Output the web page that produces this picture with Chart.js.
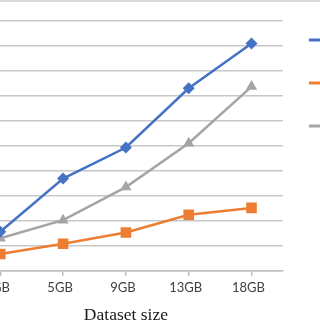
<!DOCTYPE html>
<html>
<head>
    <meta charset="utf-8">
    <title>Dataset size chart</title>
    <script src="https://cdn.jsdelivr.net/npm/chart.js"></script>
    <style>
        html, body { margin: 0; padding: 0; background: #fff; overflow: hidden; width: 320px; height: 320px; }
        #frame { position: absolute; left: 0; top: 0; width: 320px; height: 320px; overflow: hidden; }
        #frame::before { content: ''; position: absolute; left: 0; top: 0; width: 320px; height: 0; border-top: 2px solid #d9d9d9; z-index: 2; }
        #chart { position: absolute; top: 0; left: 0; }
    </style>
</head>
<body>
<div id="frame">
    <canvas id="chart" width="640" height="330"></canvas>
</div>
<script>
    // data
    const sizes = ['1GB', '5GB', '9GB', '13GB', '18GB'];
    const seriesNames = ['Series1', 'Series2', 'Series3'];
    const blueVals = [157, 369, 493, 729, 908];
    const orangeVals = [68, 109, 154, 225, 252];
    const grayVals = [131, 203, 335, 510, 736];
    const yTicks = [0, 100, 200, 300, 400, 500, 600, 700, 800, 900, 1000];

    const blue = '#4472c4', orange = '#ed7d31', gray = '#a5a5a5';

    function line(label, data, color, shape, r) {
        return {
            label: label,
            data: data,
            borderColor: color,
            backgroundColor: color,
            borderWidth: 2.5,
            pointStyle: shape,
            pointRadius: r,
            pointBorderWidth: 0,
            pointBackgroundColor: color,
            tension: 0
        };
    }

    const pad = { top: 5.5, bottom: 3.8, left: 0, right: 0 };

    const chart = new Chart(document.getElementById('chart'), {
        type: 'line',
        data: {
            labels: sizes,
            datasets: [
                line(seriesNames[0], blueVals, blue, 'rectRot', 6),
                line(seriesNames[1], orangeVals, orange, 'rect', 7.5),
                line(seriesNames[2], grayVals, gray, 'triangle', 6.5)
            ]
        },
        options: {
            responsive: false,
            animation: false,
            layout: { padding: pad },
            plugins: {
                tooltip: { enabled: false },
                legend: {
                    position: 'right',
                    align: 'start',
                    labels: {
                        boxWidth: 40,
                        boxHeight: 3,
                        padding: 26,
                        color: '#595959',
                        font: { family: 'Lato', size: 17 },
                        generateLabels: function(c) {
                            return Chart.defaults.plugins.legend.labels.generateLabels(c).map(function(it) {
                                it.lineWidth = 0;
                                return it;
                            });
                        }
                    }
                }
            },
            scales: {
                x: {
                    offset: true,
                    grid: { drawOnChartArea: false, drawTicks: true, tickLength: 5, color: '#bfbfbf', lineWidth: 1.5 },
                    border: { color: '#bfbfbf', width: 1.5 },
                    ticks: { color: '#404040', padding: 4, labelOffset: -3, font: { family: 'Lato', size: 13 } },
                    title: {
                        display: true,
                        text: 'Dataset size',
                        color: '#1a1a1a',
                        padding: { top: 5.5, bottom: 0 },
                        font: { family: 'Liberation Serif', size: 17.5 }
                    }
                },
                y: {
                    min: yTicks[0],
                    max: yTicks[yTicks.length - 1],
                    afterBuildTicks: function(s) { s.ticks = yTicks.map(function(v) { return { value: v }; }); },
                    grid: { color: '#c8c8c8', lineWidth: 1.5, drawTicks: false },
                    border: { display: false },
                    ticks: { autoSkip: false, color: '#595959', padding: 6, font: { family: 'Lato', size: 24 } }
                }
            }
        }
    });

    // fit the plot so five categories span ~313.6px, then crop so the 1GB centre sits on the left edge
    const target = 313.6;
    for (let i = 0; i < 3; i++) {
        const w = chart.chartArea.right - chart.chartArea.left;
        pad.left += w - target;
        chart.config.options.layout.padding = Object.assign({}, pad);
        chart.update();
    }
    document.getElementById('chart').style.left = (-chart.scales.x.getPixelForValue(0)) + 'px';
</script>
</body>
</html>
